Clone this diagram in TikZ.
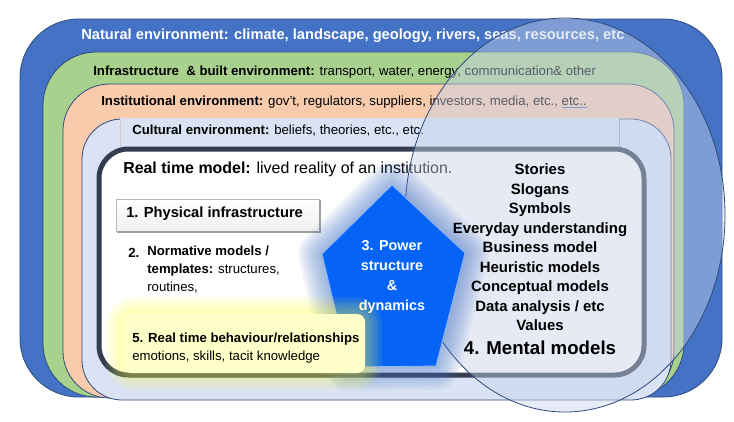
\documentclass[tikz,border=0pt]{standalone}
\usepackage{fontspec}
\setmainfont{Liberation Sans}
\usepackage{tikz}

\definecolor{natblue}{HTML}{4472C4}
\definecolor{infgreen}{HTML}{A9D18E}
\definecolor{instorange}{HTML}{F8CBAD}
\definecolor{cultblue}{HTML}{DAE3F3}
\definecolor{edgenavy}{HTML}{2F4B7C}
\definecolor{rtborder}{HTML}{333F50}
\definecolor{powerblue}{HTML}{0563F5}
\definecolor{mistfill}{HTML}{C8D2EB}
\definecolor{glowyellow}{HTML}{FFFF40}
\definecolor{paleyellow}{HTML}{FEFEC8}

\newcommand{\bluelink}[1]{\setbox0\hbox{#1}\rlap{\color{natblue}\rule[-1.6pt]{\wd0}{0.5pt}}\box0}

\begin{document}
\begin{tikzpicture}[x=0.75pt,y=0.75pt,yscale=-1,xscale=1,
  layer/.style={draw=edgenavy, line width=0.6pt},
  lbl/.style={anchor=west, inner sep=0.75pt, font=\fontsize{9.9}{12}\selectfont},
  glowline/.style={line join=round, draw opacity=0.07}]
\useasboundingbox (0,0) rectangle (734,421);

%Shape: Rounded Rect natural
\draw[layer, fill=natblue, rounded corners=44pt] (20,19) rectangle (722,397);
%Shape: Rounded Rect infrastructure
\draw[layer, fill=infgreen, rounded corners=40pt] (43,52) rectangle (684,397);
%Shape: Rounded Rect institutional
\draw[layer, fill=instorange, rounded corners=35pt] (63,84) rectangle (674,398);
%Shape: Rounded Rect cultural
\draw[layer, fill=cultblue, rounded corners=30pt] (82,119) rectangle (671,400);
%Shape: Rectangle cultural band
\fill[cultblue] (120,118.4) rectangle (619,147);
\draw[instorange!80!black!60] (120,119) -- (120,147);
\draw[edgenavy!50] (619,119) -- (619,147);

% Text Node
\node (natlbl) [lbl, text=white, font=\fontsize{11}{13}\selectfont\bfseries] at (80,36) {Natural environment: climate, landscape, geology, rivers, seas, resources, etc};
% Text Node
\node (inflbl) [lbl] at (92,72) {\textbf{Infrastructure \ \& built environment:} transport, water, energy, communication\& other};
% Text Node
\node (instlbl) [lbl] at (100,102) {\textbf{Institutional environment:} gov't, regulators, suppliers, investors, media, etc., \bluelink{etc..}};
% Text Node
\node (cultlbl) [lbl] at (131,131) {\textbf{Cultural environment:} beliefs, theories, etc., etc.};

%Shape: Rounded Rect real time model
\draw[rtborder, line width=3.75pt, fill=white, rounded corners=22pt] (99,149) rectangle (644,375);
% Text Node
\node (rtlbl) [lbl, font=\fontsize{11.95}{14}\selectfont] at (122,169) {\textbf{Real time model:} lived reality of an institution.};

%Shape: Ellipse mental models
\fill[mistfill, fill opacity=0.45] (565,215) ellipse [x radius=160, y radius=197];
\draw[edgenavy, line width=0.6pt] (565,215) ellipse [x radius=160, y radius=197];

%Shape: Rectangle physical
\draw[gray!55, top color=white, bottom color=gray!12] (116,199) rectangle (319,231);
\draw[gray!75, line width=1.2pt] (117,232) -- (320,232) -- (320,200);
% Text Node
\node (physlbl) [lbl, font=\fontsize{11}{13}\selectfont\bfseries] at (125,214) {1. Physical infrastructure};

% Text Node
\node (normnum) [lbl, font=\fontsize{9.9}{12}\selectfont\bfseries] at (127,253) {2.};
% Text Node
\node (normtxt) [anchor=north west, inner sep=0.75pt, align=left, font=\fontsize{9.9}{13.5}\selectfont] at (146,245) {\textbf{Normative models /}\\\textbf{templates:} structures,\\routines,};

%Shape: Polygon power structure with glow
\coordinate (ptop) at (392,185);
\coordinate (pright) at (465,253);
\coordinate (pbr) at (436,366);
\coordinate (pbl) at (349,367);
\coordinate (pleft) at (322,254);
\foreach \w in {36,32,...,4}
  \draw[natblue, glowline, line width=\w pt] (ptop) -- (pright) -- (pbr) -- (pbl) -- (pleft) -- cycle;
\draw[draw=powerblue!45!white, fill=powerblue, line width=0.6pt] (ptop) -- (pright) -- (pbr) -- (pbl) -- (pleft) -- cycle;
% Text Node
\node (powerlbl) [text=white, align=center, font=\fontsize{10.8}{15}\selectfont\bfseries] at (392,277) {3. Power\\structure\\\&\\dynamics};

%Shape: Rounded Rect behaviour with glow
\foreach \w in {26,22,...,2}
  \draw[glowyellow, glowline, line width=\w pt, rounded corners=8pt] (123,314) rectangle (365,373);
\fill[paleyellow, rounded corners=6pt] (123,314) rectangle (365,373);
% Text Node
\node (behavlbl) [anchor=north west, inner sep=0.75pt, align=left, font=\fontsize{9.9}{13.5}\selectfont] at (131,332) {\textbf{5. Real time behaviour/relationships}\\emotions, skills, tacit knowledge};

% Text Node
\node (mentlist) [align=center, font=\fontsize{11.2}{14.6}\selectfont\bfseries] at (540,247.5) {Stories\\Slogans\\Symbols\\Everyday understanding\\Business model\\Heuristic models\\Conceptual models\\Data analysis / etc\\Values};
% Text Node
\node (mentlbl) [font=\fontsize{14}{17}\selectfont\bfseries] at (540,348) {4. Mental models};
\end{tikzpicture}
\end{document}
